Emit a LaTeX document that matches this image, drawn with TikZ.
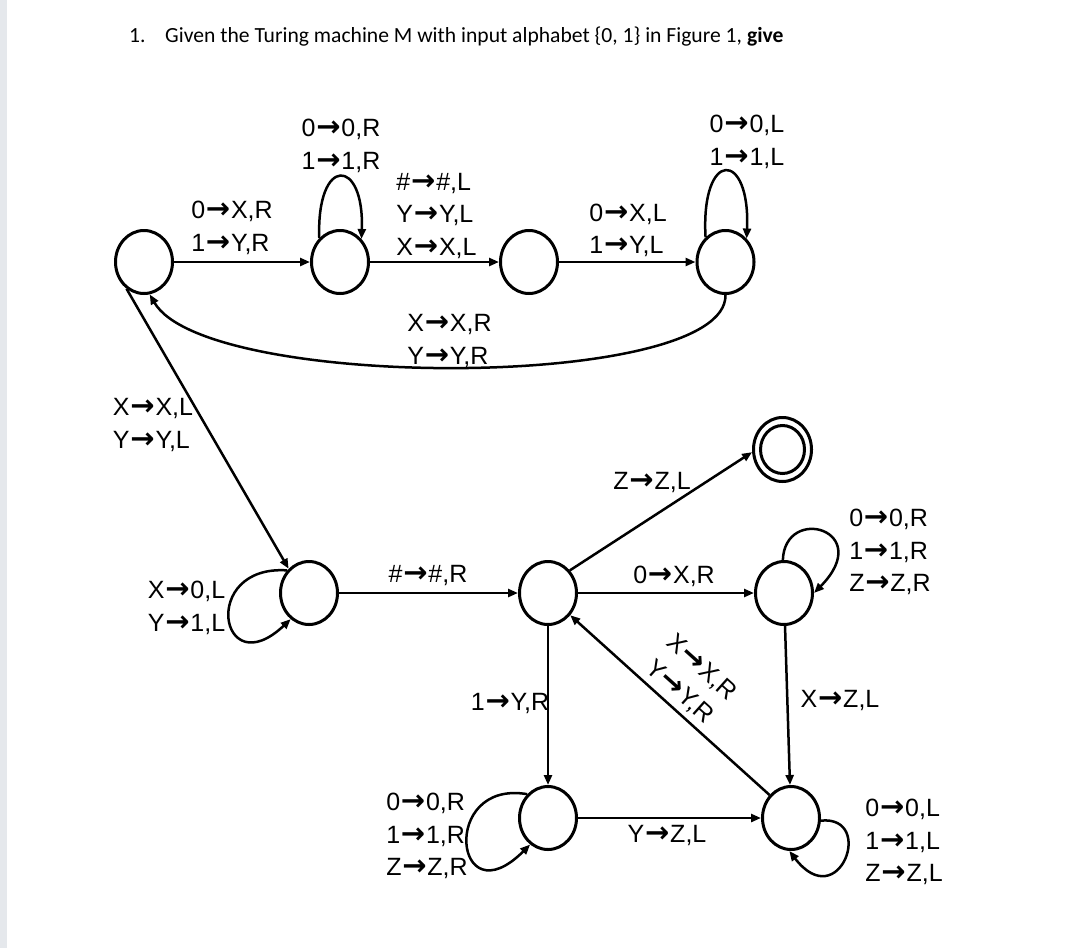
\documentclass[tikz,border=0pt]{standalone}
\usepackage{fontspec}
\setmainfont{Liberation Sans}
\newfontfamily\titlefont{Carlito}
\newfontfamily\arfont{DejaVu Sans}
\usetikzlibrary{shapes.geometric,arrows.meta}
\definecolor{stripgray}{RGB}{229,232,236}
\newcommand\lblfont{\fontsize{25}{32.5}\selectfont}
\newcommand\ttlfont{\titlefont\fontsize{21.6}{25}\selectfont}
\newcommand\ar{{\kern0.8pt\arfont\bfseries\fontsize{29}{29}\selectfont →\kern0.8pt}}
\begin{document}
\begin{tikzpicture}[x=1pt,y=-1pt,
  st/.style={draw, ellipse, line width=3pt, minimum width=57pt, minimum height=63pt, inner sep=0pt},
  tr/.style={line width=2.5pt, -{Triangle[length=10pt,width=8pt]}},
  lbl/.style={font=\lblfont, align=left, inner sep=0pt},
]
\useasboundingbox (0,0) rectangle (1083,948);
\fill[stripgray] (0,0) rectangle (7,948);

% title
\node[anchor=base west, font=\ttlfont, inner sep=0pt] (tnum) at (129,42) {1.};
\node[anchor=base west, font=\ttlfont, inner sep=0pt] (ttext) at (165,42) {Given the Turing machine M with input alphabet \{0, 1\} in Figure 1, \textbf{give}};

% states
\node[st] (A) at (144,262) {};
\node[st] (B) at (340,262) {};
\node[st] (C) at (529,262) {};
\node[st] (D) at (725.5,262) {};
\node[st] (E) at (309,593) {};
\node[st] (F) at (548,593) {};
\node[st] (G) at (784,593) {};
\node[st, minimum width=58pt, minimum height=64pt] (H) at (782.5,449.5) {};
\node[st, minimum width=44pt, minimum height=48pt] (Hin) at (H) {};
\node[st] (I) at (548,818) {};
\node[st] (J) at (791,818) {};

% transitions
\draw[tr] (A) -- (B);
\draw[tr] (B) -- (C);
\draw[tr] (C) -- (D);
\draw[tr] (B.131) .. controls +(-3,-83) and +(3,-82) .. (B.47);
\draw[tr] (D.129) .. controls +(-5,-89) and +(4,-89) .. (D.48);
\draw[tr] (D.south) .. controls +(1.5,96) and +(56,97) .. (A.-80);
\draw[tr] (A.-123) -- (E.130);
\draw[tr] (E.134) .. controls +(-88,-6) and +(-71,67) .. (E.-125);
\draw[tr] (E) -- (F);
\draw[tr] (F.46) -- (H.185);
\draw[tr] (F) -- (G);
\draw[tr] (G.92) .. controls +(2,-56) and +(62,-63) .. (G.east);
\draw[tr] (F) -- (I);
\draw[tr] (G) -- (J);
\draw[tr] (J.133) -- (F.-45);
\draw[tr] (I) -- (J);
\draw[tr] (I.131) .. controls +(-88,-15) and +(-76,76) .. (I.-124);
\draw[tr] (J.-5) .. controls +(55,-5.5) and +(50,65) .. (J.-93);

% labels
\node[lbl] (lAB) at (232,228) {0\ar X,R\\1\ar Y,R};
\node[lbl] (lBB) at (341,146) {0\ar 0,R\\1\ar 1,R};
\node[lbl] (lBC) at (436.5,215.5) {\#\ar\#,L\\Y\ar Y,L\\X\ar X,L};
\node[lbl] (lCD) at (628,230.5) {0\ar X,L\\1\ar Y,L};
\node[lbl] (lDD) at (747,142) {0\ar 0,L\\1\ar 1,L};
\node[lbl] (lDA) at (449.5,341) {X\ar X,R\\Y\ar Y,R};
\node[lbl] (lAE) at (153,425) {X\ar X,L\\Y\ar Y,L};
\node[lbl] (lEE) at (186.5,608) {X\ar 0,L\\Y\ar 1,L};
\node[lbl] (lEF) at (428,575) {\#\ar\#,R};
\node[lbl] (lFH) at (652,482) {Z\ar Z,L};
\node[lbl] (lFG) at (674,576) {0\ar X,R};
\node[lbl] (lGG) at (890,552) {0\ar 0,R\\1\ar 1,R\\Z\ar Z,R};
\node[lbl] (lFI) at (510,703) {1\ar Y,R};
\node[lbl] (lGJ) at (840,700) {X\ar Z,L};
\node[lbl, rotate=-41.9, align=center] (lJF) at (690.5,680) {X\ar X,R\\Y\ar Y,R};
\node[lbl] (lIJ) at (667,835) {Y\ar Z,L};
\node[lbl] (lII) at (427,836) {0\ar 0,R\\1\ar 1,R\\Z\ar Z,R};
\node[lbl] (lJJ) at (904,842) {0\ar 0,L\\1\ar 1,L\\Z\ar Z,L};
\end{tikzpicture}
\end{document}
